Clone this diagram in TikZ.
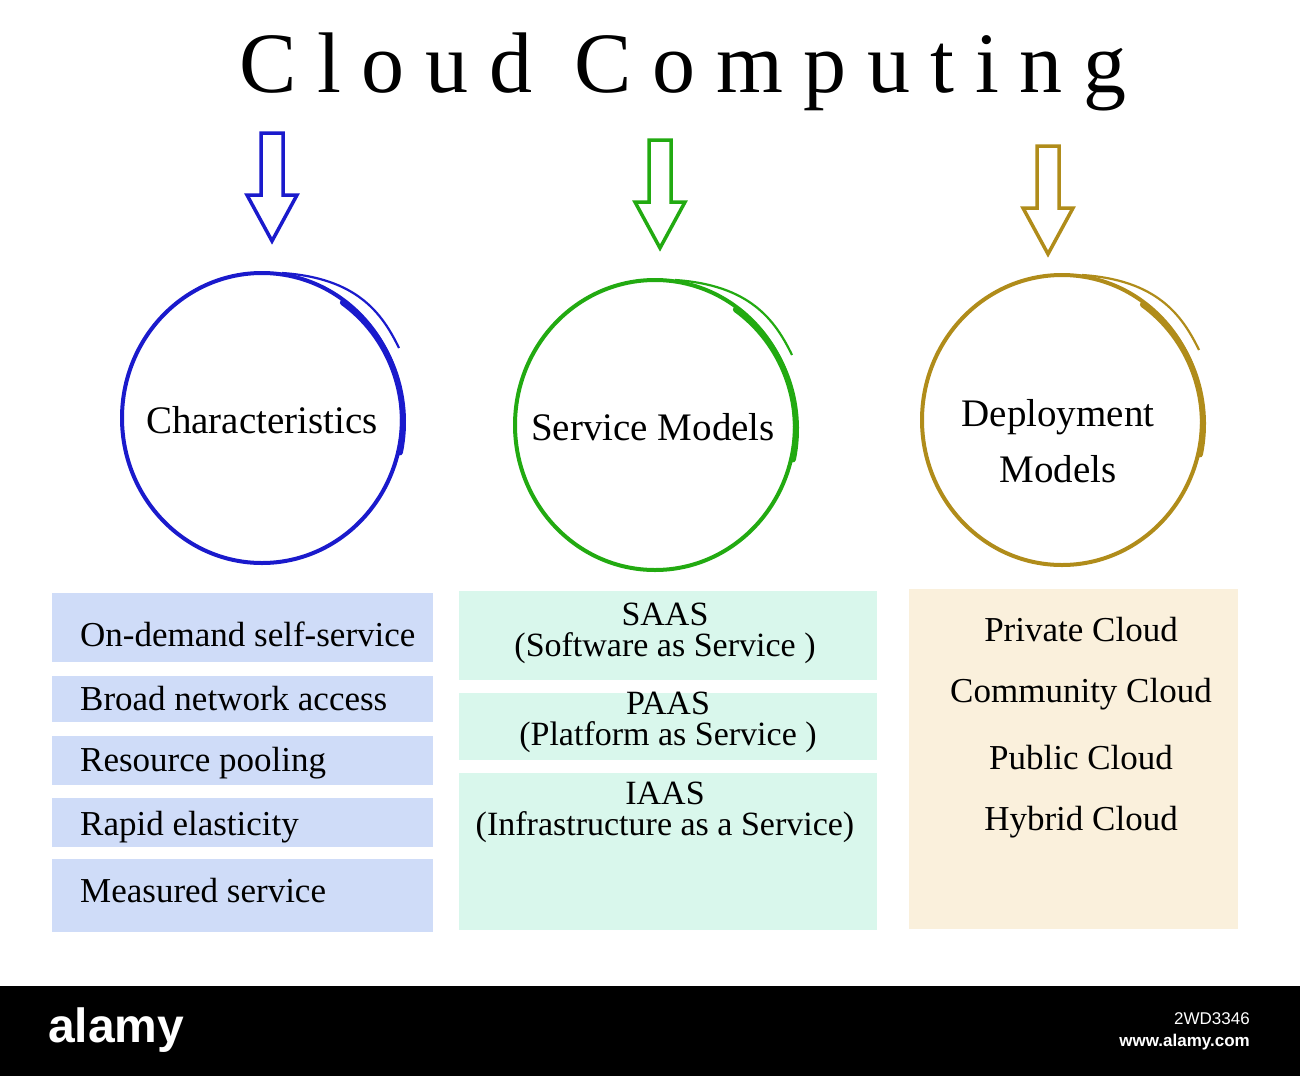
\documentclass[tikz,border=0pt]{standalone}
\usepackage{fontspec}
\setmainfont{Liberation Serif}
\newfontfamily\sansb{Liberation Sans}
\definecolor{cblue}{HTML}{1A1ACC}
\definecolor{cgreen}{HTML}{22AA11}
\definecolor{cgold}{HTML}{B08C1A}
\definecolor{bblue}{HTML}{CFDCF8}
\definecolor{bgreen}{HTML}{D9F7EC}
\definecolor{bgold}{HTML}{FAF0DC}
\begin{document}
\begin{tikzpicture}[x=1pt,y=-1pt,
  lbl/.style={font=\fontsize{35}{36}\selectfont,inner sep=0pt},
  mlbl/.style={font=\fontsize{34}{31}\selectfont,inner sep=0pt,align=center},
  cirtext/.style={font=\fontsize{39}{56}\selectfont,align=center,inner sep=0pt}]
\useasboundingbox (0,0) rectangle (1300,1076);
\fill[white] (0,0) rectangle (1300,1076);
\node[inner sep=0pt,font=\fontsize{86}{86}\selectfont\addfontfeature{LetterSpace=24}] (title) at (683,72) {Cloud Computing};
% arrows
\foreach \cx/\ty/\c in {272/133/cblue,660/140/cgreen,1048/146/cgold}{
  \draw[\c,line width=3.5pt,line join=miter]
    (\cx-11,\ty) -- (\cx+11,\ty) -- (\cx+11,\ty+62) -- (\cx+25,\ty+62) -- (\cx,\ty+108)
    -- (\cx-25,\ty+62) -- (\cx-11,\ty+62) -- cycle;
}
% circles
\foreach \cx/\cy/\c in {262/418/cblue,655/425/cgreen,1062/420/cgold}{
  \draw[\c,line width=4pt] (\cx,\cy) ellipse (140 and 145);
  \draw[\c,line width=6pt,line cap=round] ([shift={(\cx,\cy)}]-55:141) arc[start angle=-55,end angle=12,x radius=141,y radius=146];
  \draw[\c,line width=2.2pt] (\cx+20,\cy-145) .. controls (\cx+95,\cy-140) and (\cx+120,\cy-105) .. (\cx+137,\cy-70);
}
\node[cirtext] (c1) at (262,420) {Characteristics};
\node[cirtext] (c2) at (653,427) {Service Models};
\node[cirtext] (c3) at (1058,441) {Deployment\\ Models};
% left boxes
\foreach \a/\b in {593/662,676/722,736/785,798/847,859/932}{
  \fill[bblue] (52,\a) rectangle (433,\b);
}
\node[lbl,anchor=west] (l1) at (80,634) {On-demand self-service};
\node[lbl,anchor=west] (l2) at (80,699) {Broad network access};
\node[lbl,anchor=west] (l3) at (80,763) {Resource pooling};
\node[lbl,anchor=west] (l4) at (80,827) {Rapid elasticity};
\node[lbl,anchor=west] (l5) at (80,891) {Measured service};
% middle boxes
\fill[bgreen] (459,591) rectangle (877,680);
\fill[bgreen] (459,693) rectangle (877,760);
\fill[bgreen] (459,773) rectangle (877,930);
\node[mlbl] (m1) at (665,633) {SAAS\\(Software as Service )};
\node[mlbl] (m2) at (668,722) {PAAS\\(Platform as Service )};
\node[mlbl] (m3) at (665,812) {IAAS\\(Infrastructure as a Service)};
% right box
\fill[bgold] (909,589) rectangle (1238,929);
\node[lbl] (r1) at (1081,630) {Private Cloud};
\node[lbl] (r2) at (1081,694) {Community Cloud};
\node[lbl] (r3) at (1081,758) {Public Cloud};
\node[lbl] (r4) at (1081,822) {Hybrid Cloud};
% bottom bar
\fill[black] (0,986) rectangle (1300,1076);
\node[white,inner sep=0pt,anchor=west,font=\sansb\bfseries\fontsize{48}{48}\selectfont] (al) at (48,1030) {alamy};
\node[white,inner sep=0pt,anchor=east,font=\sansb\fontsize{17}{17}\selectfont] (id) at (1250,1019) {2WD3346};
\node[white,inner sep=0pt,anchor=east,font=\sansb\bfseries\fontsize{17}{17}\selectfont] (url) at (1250,1042) {www.alamy.com};
\end{tikzpicture}
\end{document}
